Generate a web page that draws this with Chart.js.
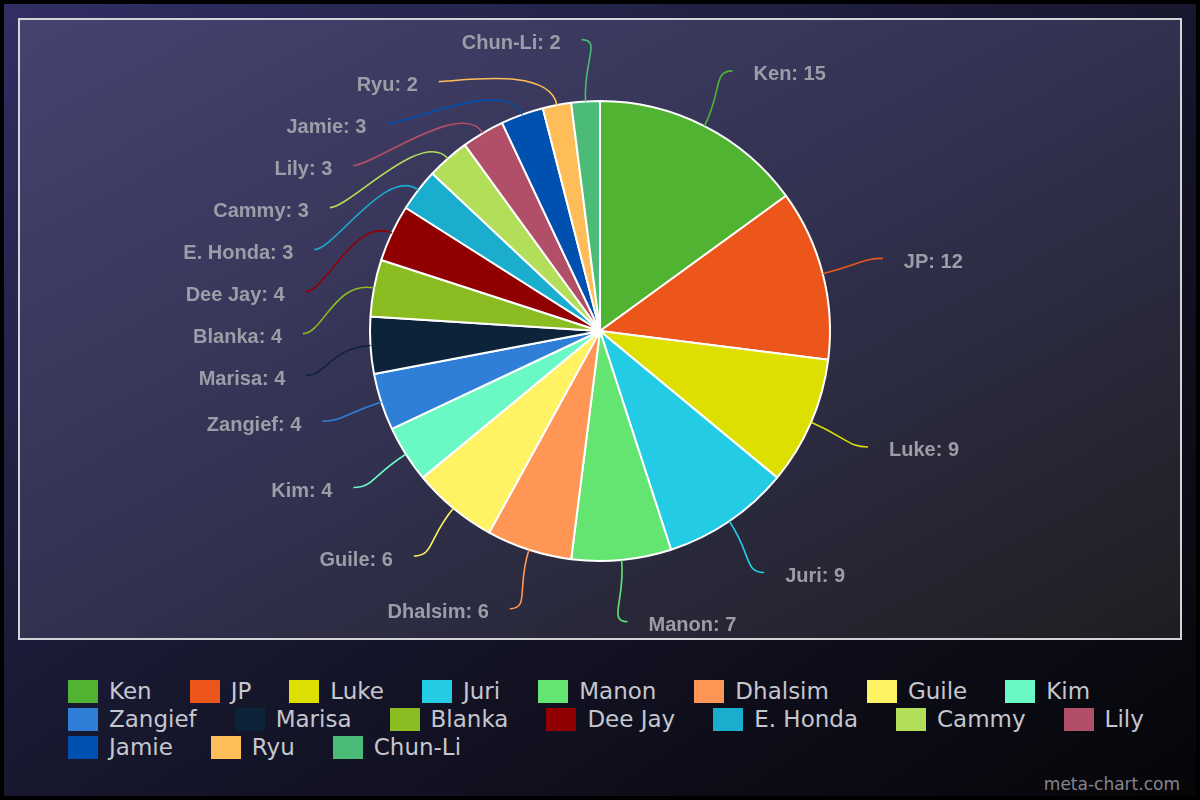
<!DOCTYPE html>
<html>
<head>
<meta charset="utf-8">
<script src="https://cdn.jsdelivr.net/npm/chart.js@4.4.0/dist/chart.umd.min.js"></script>
<style>
    body { margin: 0; background: #000; }
    #frame {
        position: relative;
        width: 1200px;
        height: 800px;
        box-sizing: border-box;
        border: 4px solid #000;
        background: linear-gradient(to bottom right, #312f64 0%, #17172e 50%, #050508 100%);
        overflow: hidden;
    }
    #plotBox {
        position: absolute;
        left: 14px;
        top: 14px;
        width: 1164px;
        height: 622px;
        box-sizing: border-box;
        border: 2px solid #d4d4d8;
        background: linear-gradient(to bottom right, #46426f 0%, #323150 50%, #1e1e21 100%);
    }
    #grafico { position: absolute; left: 0; top: 0; }
    #leyenda {
        position: absolute;
        left: 64px;
        top: 673px;
        width: 1090px;
        display: flex;
        flex-wrap: wrap;
        column-gap: 38px;
        font-family: "DejaVu Sans", Verdana, sans-serif;
        font-size: 23px;
        color: #c6c6ce;
    }
    #leyenda .item {
        display: flex;
        align-items: center;
        height: 28px;
        white-space: nowrap;
    }
    #leyenda .caja {
        display: inline-block;
        width: 30px;
        height: 23px;
        margin-right: 11px;
    }
    #marca {
        position: absolute;
        right: 16px;
        bottom: 2px;
        font-family: "DejaVu Sans", Verdana, sans-serif;
        font-size: 17px;
        color: #85858c;
    }
</style>
</head>
<body>
<div id="frame">
    <div id="plotBox"><canvas id="grafico" width="1160" height="618"></canvas></div>
    <div id="leyenda"></div>
    <div id="marca">meta-chart.com</div>
</div>
<script>
const personajes = ["Ken", "JP", "Luke", "Juri", "Manon", "Dhalsim", "Guile", "Kim", "Zangief",
    "Marisa", "Blanka", "Dee Jay", "E. Honda", "Cammy", "Lily", "Jamie", "Ryu", "Chun-Li"];
const cantidades = [15, 12, 9, 9, 7, 6, 6, 4, 4, 4, 4, 4, 3, 3, 3, 3, 2, 2];
const colores = ["#50b432", "#ed561b", "#dddf00", "#24cbe5", "#64e572", "#ff9655", "#fff263",
    "#6af9c4", "#2f7ed8", "#0d233a", "#8bbc21", "#910000", "#1aadce", "#b2de5a", "#b24f68",
    "#0050b0", "#ffbd5a", "#4cbb78"];

// etiquetas con linea curva hacia cada porcion
const etiquetasPlugin = {
    id: "etiquetas",
    afterDatasetsDraw(chart) {
        const ctx = chart.ctx;
        const arcos = chart.getDatasetMeta(0).data;
        const rNatural = 292;
        const rEmpujado = 297;
        const separacion = 42;
        let puntos = [];
        arcos.forEach((arco, i) => {
            const medio = (arco.startAngle + arco.endAngle) / 2;
            const lado = Math.cos(medio) >= 0 ? 1 : -1;
            puntos.push({
                i: i,
                medio: medio,
                lado: lado,
                cx: arco.x,
                cy: arco.y,
                r: arco.outerRadius,
                x: arco.x + rNatural * Math.cos(medio),
                y: arco.y + rNatural * Math.sin(medio),
            });
        });
        // evitar choques en el lado izquierdo
        const izq = puntos.filter(p => p.lado < 0).sort((a, b) => a.y - b.y);
        for (let k = 1; k < izq.length; k++) {
            if (izq[k].y < izq[k - 1].y + separacion) {
                izq[k].y = izq[k - 1].y + separacion;
                const dy = izq[k].y - izq[k].cy;
                izq[k].x = izq[k].cx - Math.sqrt(Math.max(rEmpujado * rEmpujado - dy * dy, 0));
            }
        }
        ctx.save();
        puntos.forEach(p => {
            const sx = p.cx + p.r * Math.cos(p.medio);
            const sy = p.cy + p.r * Math.sin(p.medio);
            const c1x = p.cx + (p.r + 40) * Math.cos(p.medio);
            const c1y = p.cy + (p.r + 40) * Math.sin(p.medio);
            ctx.beginPath();
            ctx.moveTo(sx, sy);
            ctx.bezierCurveTo(c1x, c1y, p.x - p.lado * 20, p.y, p.x, p.y);
            ctx.strokeStyle = colores[p.i];
            ctx.lineWidth = 1.6;
            ctx.stroke();

            ctx.font = "bold 20px 'Liberation Sans', Arial, sans-serif";
            ctx.fillStyle = "#9d9da7";
            ctx.textBaseline = "middle";
            ctx.textAlign = p.lado > 0 ? "left" : "right";
            ctx.fillText(personajes[p.i] + ": " + cantidades[p.i], p.x + p.lado * 21, p.y + 4);
        });
        ctx.restore();
    }
};

const ctx = document.getElementById("grafico").getContext("2d");
const myChart = new Chart(ctx, {
    type: "pie",
    data: {
        labels: personajes,
        datasets: [{
            data: cantidades,
            backgroundColor: colores,
            borderColor: "#ffffff",
            borderWidth: 2,
        }, ],
    },
    options: {
        responsive: false,
        animation: false,
        radius: 230,
        layout: { padding: { top: 4 } },
        plugins: {
            legend: { display: false },
            tooltip: { enabled: false },
        },
    },
    plugins: [etiquetasPlugin],
});

// leyenda en html, generada desde el grafico
const items = Chart.overrides.pie.plugins.legend.labels.generateLabels(myChart);
const leyenda = document.getElementById("leyenda");
items.forEach(item => {
    const span = document.createElement("span");
    span.className = "item";
    const caja = document.createElement("span");
    caja.className = "caja";
    caja.style.background = item.fillStyle;
    span.appendChild(caja);
    span.appendChild(document.createTextNode(item.text));
    leyenda.appendChild(span);
});
</script>
</body>
</html>
